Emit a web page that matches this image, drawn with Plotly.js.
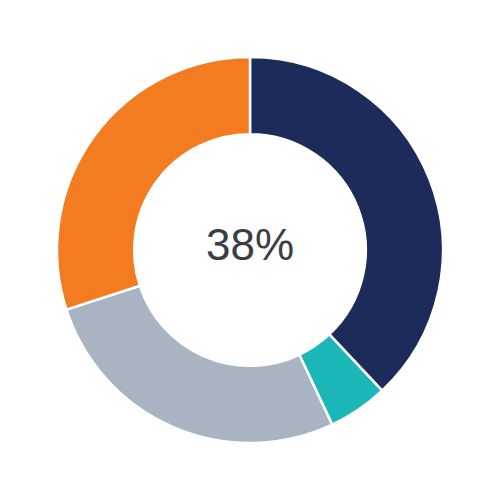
<!DOCTYPE html>
<html>
<head>
<meta charset="utf-8">
<script src="https://cdn.plot.ly/plotly-3.0.1.min.js"></script>
<style>
  html, body { margin: 0; padding: 0; background: #fff; }
  #chart { width: 500px; height: 500px; }
</style>
</head>
<body>
<div id="chart"></div>
<script>
var labels = ['A', 'B', 'C', 'D'];
var values = [38, 5, 27, 30];
var colors = ['#1c2b5a', '#1bb6b8', '#a9b4c2', '#f47c20'];
var centerText = '38%';

var trace = {
  type: 'pie',
  labels: labels,
  values: values,
  hole: 0.6,
  sort: false,
  direction: 'clockwise',
  rotation: 0,
  textinfo: 'none',
  hoverinfo: 'label+percent',
  marker: { colors: colors, line: { color: '#ffffff', width: 2.5 } }
};

var layout = {
  width: 500,
  height: 500,
  margin: { l: 57, r: 57, t: 57, b: 57 },
  showlegend: false,
  paper_bgcolor: '#ffffff',
  annotations: [{
    text: centerText,
    x: 0.5, y: 0.513, xref: 'paper', yref: 'paper',
    showarrow: false,
    font: { family: 'Liberation Sans, Arial, sans-serif', size: 44, color: '#3a3e44' }
  }]
};

Plotly.newPlot('chart', [trace], layout, { displayModeBar: false, staticPlot: true });
</script>
</body>
</html>
